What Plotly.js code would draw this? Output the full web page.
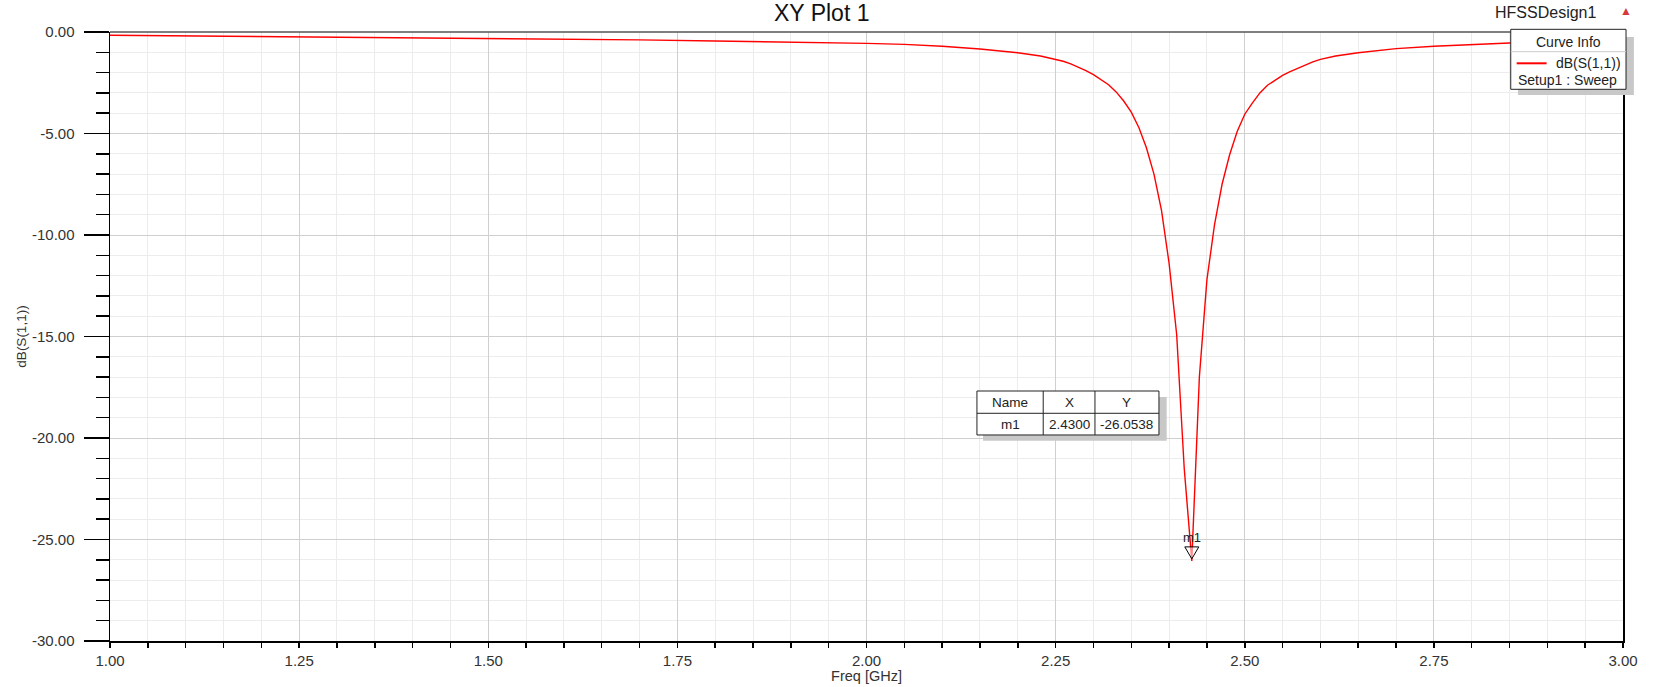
<!DOCTYPE html>
<html>
<head>
<meta charset="utf-8">
<script src="https://cdn.plot.ly/plotly-3.0.1.min.js"></script>
<style>html,body{margin:0;padding:0;background:#fff;}#chart{width:1653px;height:687px;}</style>
</head>
<body>
<div id="chart"></div>
<script>
// Frequency sweep (GHz)
const freq = [1.00,1.10,1.20,1.30,1.40,1.50,1.60,1.70,1.80,1.90,2.00,2.05,2.10,2.15,2.20,2.23,2.25,2.26,2.27,2.28,2.29,2.30,2.31,2.32,2.33,2.34,2.35,2.36,2.37,2.38,2.39,2.40,2.41,2.42,2.43,2.44,2.45,2.46,2.47,2.48,2.49,2.50,2.51,2.52,2.53,2.54,2.55,2.56,2.57,2.58,2.59,2.60,2.62,2.65,2.70,2.75,2.80,2.85,2.90,2.95,3.00];
// dB(S(1,1))
const s11 = [-0.16,-0.19,-0.22,-0.26,-0.29,-0.32,-0.35,-0.39,-0.44,-0.49,-0.56,-0.61,-0.70,-0.84,-1.02,-1.18,-1.33,-1.44,-1.57,-1.72,-1.90,-2.10,-2.33,-2.60,-2.95,-3.40,-3.95,-4.70,-5.70,-7.00,-8.80,-11.40,-14.90,-21.50,-26.0538,-17.00,-12.20,-9.50,-7.50,-6.05,-4.90,-4.05,-3.50,-3.00,-2.62,-2.36,-2.14,-1.95,-1.78,-1.61,-1.47,-1.35,-1.18,-1.02,-0.82,-0.70,-0.61,-0.54,-0.49,-0.45,-0.42];

// Marker m1
const markerName = ["m1"];
const markerX = [2.4300];
const markerY = [-26.0538];

// Axis ticks
const xTickVals = [1.00,1.25,1.50,1.75,2.00,2.25,2.50,2.75,3.00];
const xTickText = ["1.00","1.25","1.50","1.75","2.00","2.25","2.50","2.75","3.00"];
const yTickVals = [0,-5,-10,-15,-20,-25,-30];
const yTickText = ["0.00","-5.00","-10.00","-15.00","-20.00","-25.00","-30.00"];

const traceName = "dB(S(1,1))";
const setupName = "Setup1 : Sweep";
const plotTitle = "XY Plot 1";
const designName = "HFSSDesign1";

const FONT = "Liberation Sans, Arial, sans-serif";

const traces = [
  {
    x: freq, y: s11, type: "scatter", mode: "lines", name: traceName,
    line: {color: "#ff0000", width: 1.4}, hoverinfo: "x+y"
  }
];

const txt = (size, color) => ({family: FONT, size: size, color: color || "#222"});
const ann = (text, x, y, xanchor, size, extra) => Object.assign({text: text, xref: "paper", yref: "paper", x: x, y: y, xanchor: xanchor, yanchor: "middle", showarrow: false, font: txt(size)}, extra || {});

const layout = {
  width: 1653, height: 687,
  margin: {l: 110, r: 30, t: 32, b: 46},
  paper_bgcolor: "#ffffff", plot_bgcolor: "#ffffff",
  showlegend: false,
  font: {family: FONT, size: 13, color: "#333"},
  xaxis: {
    range: [1, 3], tickvals: xTickVals, ticktext: xTickText,
    ticks: "outside", ticklen: 5, tickcolor: "#000", tickwidth: 1.5,
    showline: true, linecolor: "#000", linewidth: 1.5, mirror: false,
    showgrid: true, gridcolor: "#cfcfcf", gridwidth: 1, zeroline: false,
    tickfont: txt(15, "#333"),
    minor: {dtick: 0.05, ticks: "outside", ticklen: 5, tickcolor: "#000", tickwidth: 1.5, showgrid: true, gridcolor: "#ececec", gridwidth: 1},
    title: {text: "Freq [GHz]", font: txt(14.5, "#333"), standoff: 0}
  },
  yaxis: {
    range: [-30, 0], tickvals: yTickVals, ticktext: yTickText,
    ticks: "outside", ticklen: 25, tickcolor: "#000", tickwidth: 1.5,
    showline: true, linecolor: "#000", linewidth: 1.5, mirror: true,
    showgrid: true, gridcolor: "#cfcfcf", gridwidth: 1, zeroline: false,
    tickfont: txt(15, "#333"),
    ticklabelstandoff: 6,
    minor: {dtick: 1, ticks: "outside", ticklen: 13, tickcolor: "#000", tickwidth: 1.5, showgrid: true, gridcolor: "#ececec", gridwidth: 1},
    title: {text: "dB(S(1,1))", font: txt(13.5, "#333"), standoff: 2}
  },
  shapes: [
    // top frame line
    {type: "line", xref: "paper", yref: "paper", x0: 0, x1: 1, y0: 1, y1: 1, line: {color: "#555", width: 1.5}},
    // Curve Info legend shadow + box
    {type: "rect", xref: "paper", yref: "paper", x0: 0.9306, x1: 1.0072, y0: 0.8966, y1: 0.9918, fillcolor: "#c8c8c8", line: {width: 0}},
    {type: "rect", xref: "paper", yref: "paper", x0: 0.9258, x1: 1.0020, y0: 0.9059, y1: 1.0044, fillcolor: "#ffffff", line: {color: "#222", width: 1}},
    {type: "line", xref: "paper", yref: "paper", x0: 0.9258, x1: 1.0020, y0: 0.9677, y1: 0.9677, line: {color: "#cccccc", width: 1}},
    {type: "line", xref: "paper", yref: "paper", x0: 0.9297, x1: 0.9495, y0: 0.9486, y1: 0.9486, line: {color: "#ff0000", width: 2}},
    // Marker table shadow + box
    {type: "rect", xref: "paper", yref: "paper", x0: 0.5770, x1: 0.6984, y0: 0.3289, y1: 0.4007, fillcolor: "#c8c8c8", line: {width: 0}},
    {type: "rect", xref: "paper", yref: "paper", x0: 0.5730, x1: 0.6933, y0: 0.3383, y1: 0.4105, fillcolor: "#ffffff", line: {color: "#222", width: 1}},
    {type: "line", xref: "paper", yref: "paper", x0: 0.5730, x1: 0.6933, y0: 0.3739, y1: 0.3739, line: {color: "#222", width: 1}},
    {type: "line", xref: "paper", yref: "paper", x0: 0.6168, x1: 0.6168, y0: 0.3383, y1: 0.4105, line: {color: "#222", width: 1}},
    {type: "line", xref: "paper", yref: "paper", x0: 0.6510, x1: 0.6510, y0: 0.3383, y1: 0.4105, line: {color: "#222", width: 1}},
    // marker m1 symbol: downward triangle anchored on the marker point (pixel-sized)
    {type: "path", xref: "x", yref: "y", xsizemode: "pixel", ysizemode: "pixel",
     xanchor: markerX[0], yanchor: markerY[0],
     path: "M0,2 L-7,14 L7,14 Z", fillcolor: "rgba(255,255,255,0.55)", line: {color: "#000", width: 1}}
  ],
  annotations: [
    ann(plotTitle, 0.4703, 1.0312, "center", 23, {font: txt(23, "#111")}),
    ann(designName, 0.9490, 1.0312, "center", 16),
    ann("▲", 1.0020, 1.0345, "center", 12, {font: txt(12, "#d43a3a")}),
    ann("Curve Info", 0.9640, 0.9841, "center", 14),
    ann(traceName, 1.0000, 0.9491, "right", 14),
    ann(setupName, 0.9290, 0.9212, "left", 14),
    ann("Name", 0.5949, 0.3913, "center", 13.5),
    ann("X", 0.6339, 0.3913, "center", 13.5),
    ann("Y", 0.6721, 0.3913, "center", 13.5),
    ann(markerName[0], 0.5949, 0.3547, "center", 13.5),
    ann(markerX[0].toFixed(4), 0.6339, 0.3547, "center", 13.5),
    ann(markerY[0].toFixed(4), 0.6721, 0.3547, "center", 13.5),
    {text: markerName[0], xref: "x", yref: "y", x: markerX[0], y: markerY[0], xanchor: "center", yanchor: "bottom", showarrow: false, yshift: 14, font: txt(13)}
  ]
};

Plotly.newPlot("chart", traces, layout, {displayModeBar: false, staticPlot: true});
</script>
</body>
</html>
